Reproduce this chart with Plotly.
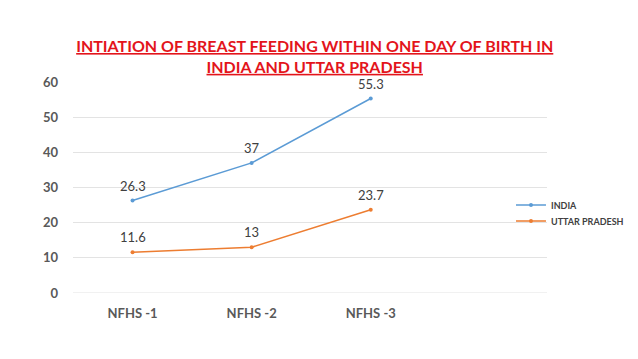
import plotly.graph_objects as go

categories = ["NFHS -1", "NFHS -2", "NFHS -3"]
india = [26.3, 37, 55.3]
uttar_pradesh = [11.6, 13, 23.7]
india_labels = ["26.3", "37", "55.3"]
up_labels = ["11.6", "13", "23.7"]
y_ticks = [0, 10, 20, 30, 40, 50, 60]

# page body has an 8px default margin, so the figure is drawn 8px smaller
W, H = 630, 351
L, R, T, B = 65, 91, 74, 66
FONT = "Lato, 'Open Sans', sans-serif"

fig = go.Figure()
fig.add_trace(go.Scatter(
    x=categories, y=india, name="INDIA", mode="lines+markers",
    line=dict(color="#5B9BD5", width=1.5), marker=dict(size=4, color="#5B9BD5"),
    legend="legend",
))
fig.add_trace(go.Scatter(
    x=categories, y=uttar_pradesh, name="UTTAR PRADESH", mode="lines+markers",
    line=dict(color="#ED7D31", width=1.5), marker=dict(size=4, color="#ED7D31"),
    legend="legend2",
))

for xs, ys, labels in [(categories, india, india_labels), (categories, uttar_pradesh, up_labels)]:
    for xv, yv, lab in zip(xs, ys, labels):
        fig.add_annotation(x=xv, y=yv, text=lab, showarrow=False, yshift=15,
                           font=dict(size=13, color="#404040", family=FONT))

legend_common = dict(
    xanchor="left", yanchor="middle",
    font=dict(size=9, color="#404040", family=FONT, weight="bold"),
    bgcolor="rgba(0,0,0,0)", itemwidth=30,
)

fig.update_layout(
    width=W, height=H,
    margin=dict(l=L, r=R, t=T, b=B, autoexpand=False),
    paper_bgcolor="white", plot_bgcolor="white",
    font=dict(family=FONT, color="#595959"),
    title=dict(
        text="<b><u>INTIATION OF BREAST FEEDING WITHIN ONE DAY OF BIRTH IN</u></b><br><b><u>INDIA AND UTTAR PRADESH</u></b>",
        x=0.51, xanchor="center", xref="paper", y=1 - 44 / H, yanchor="top",
        font=dict(size=16, color="#E3141B", family=FONT),
    ),
    xaxis=dict(
        type="category", range=[-0.5, 3.48], showgrid=False, zeroline=False,
        showline=False, ticks="", ticklabelstandoff=11,
        tickfont=dict(size=13, color="#595959", family=FONT, weight="bold"),
    ),
    yaxis=dict(
        range=[0, 60], tickvals=y_ticks, showgrid=True, gridcolor="#E3E3E3",
        gridwidth=1, zeroline=False, showline=False, ticks="",
        tickfont=dict(size=13, color="#595959", family=FONT, weight="bold"),
        ticklabelstandoff=14,
    ),
    legend=dict(x=0.924, y=0.417, **legend_common),
    legend2=dict(x=0.924, y=0.341, **legend_common),
    showlegend=True,
)
fig.add_shape(type="line", xref="paper", yref="y", x0=0, x1=1, y0=0, y1=0,
              line=dict(color="#E3E3E3", width=1))

fig.write_html("out.html")
